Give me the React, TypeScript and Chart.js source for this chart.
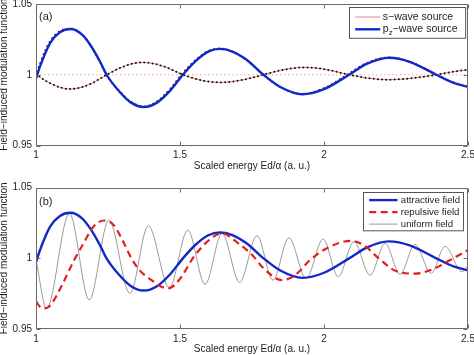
import React, { useEffect, useRef } from 'react';
import { Chart, registerables } from 'chart.js';

Chart.register(...registerables);

const FONT = '"Liberation Sans", Arial, Helvetica, sans-serif';
const TEXT = '#1e1e1e';
const AXIS = '#6a6a6a';
const BLUE = '#1428c8';
const RED = '#e41e1e';
const GRAY = '#9a9a9a';
const S_RED = '#e88080';

// ---- axes ----
const xTickValues = [1, 1.5, 2, 2.5];
const xTickLabels = ['1', '1.5', '2', '2.5'];
const yTickValues = [0.95, 1, 1.05];
const yTickLabels = ['0.95', '1', '1.05'];
const xTitle = 'Scaled energy Ed/\u03b1 (a. u.)';
const yTitle = 'Field\u2212induced modulation function';

// ---- panel (a) ----
const pzX = [1.000, 1.014, 1.049, 1.083, 1.120, 1.160, 1.188, 1.222, 1.245, 1.290, 1.330, 1.375, 1.420, 1.465, 1.510, 1.555, 1.600, 1.638, 1.680, 1.730, 1.790, 1.850, 1.925, 2.000, 2.087, 2.150, 2.225, 2.300, 2.390, 2.450, 2.500];
const pzY = [0.9972, 1.0059, 1.0224, 1.0300, 1.0323, 1.0283, 1.0212, 1.0094, 1.0000, 0.9880, 0.9803, 0.9772, 0.9803, 0.9886, 1.0000, 1.0098, 1.0165, 1.0183, 1.0166, 1.0108, 1.0000, 0.9912, 0.9862, 0.9898, 1.0000, 1.0078, 1.0120, 1.0090, 1.0000, 0.9943, 0.9915];
const pzDotY = [0.9990, 1.0080, 1.0238, 1.0308, 1.0325, 1.0285, 1.0212, 1.0092, 0.9998, 0.9884, 0.9808, 0.9775, 0.9812, 0.9898, 1.0012, 1.0106, 1.0170, 1.0185, 1.0166, 1.0106, 0.9998, 0.9910, 0.9864, 0.9905, 1.0008, 1.0085, 1.0122, 1.0090, 1.0000, 0.9944, 0.9916];
const sX = [1.000, 1.030, 1.060, 1.090, 1.118, 1.160, 1.200, 1.245, 1.290, 1.330, 1.370, 1.410, 1.460, 1.510, 1.555, 1.600, 1.635, 1.675, 1.725, 1.790, 1.850, 1.930, 2.000, 2.087, 2.150, 2.222, 2.300, 2.390, 2.450, 2.500];
const sY = [1.0005, 0.9961, 0.9929, 0.9907, 0.9899, 0.9913, 0.9946, 1.0000, 1.0046, 1.0076, 1.0087, 1.0078, 1.0046, 1.0000, 0.9971, 0.9951, 0.9946, 0.9950, 0.9967, 1.0000, 1.0032, 1.0052, 1.0040, 1.0000, 0.9977, 0.9965, 0.9974, 1.0000, 1.0022, 1.0035];
const refX = [1, 2.5];
const refY = [1, 1];

// ---- panel (b) ----
const attrX = pzX;
const attrY = pzY;
const repX = [1.000, 1.015, 1.030, 1.050, 1.095, 1.130, 1.165, 1.200, 1.236, 1.270, 1.300, 1.330, 1.360, 1.400, 1.430, 1.460, 1.500, 1.546, 1.593, 1.645, 1.700, 1.750, 1.790, 1.853, 1.900, 1.950, 2.010, 2.095, 2.140, 2.190, 2.250, 2.317, 2.380, 2.440, 2.500];
const repY = [0.9695, 0.9655, 0.9646, 0.9668, 0.9830, 0.9978, 1.0106, 1.0225, 1.0268, 1.0235, 1.0130, 1.0005, 0.9915, 0.9848, 0.9805, 0.9788, 0.9855, 1.0005, 1.0115, 1.0177, 1.0110, 1.0025, 0.9930, 0.9846, 0.9882, 0.9985, 1.0072, 1.0124, 1.0090, 1.0000, 0.9910, 0.9892, 0.9925, 0.9990, 1.0060];
const uniX = [1.000, 1.037, 1.116, 1.185, 1.253, 1.326, 1.390, 1.463, 1.527, 1.587, 1.646, 1.707, 1.767, 1.823, 1.878, 1.938, 1.997, 2.049, 2.104, 2.160, 2.212, 2.264, 2.316, 2.372, 2.420, 2.479, 2.500];
const uniY = [0.9990, 0.9646, 1.0318, 0.9705, 1.0271, 0.9752, 1.0231, 0.9792, 1.0200, 0.9816, 1.0177, 0.9830, 1.0160, 0.9846, 1.0146, 0.9858, 1.0137, 0.9870, 1.0118, 0.9880, 1.0106, 0.9887, 1.0099, 0.9894, 1.0085, 0.9906, 0.9950];

const pts = (xs: number[], ys: number[]) => xs.map((x, i) => ({ x, y: ys[i] }));

const frameLegend = {
  id: 'frameLegend',
  afterDatasetsDraw(chart: any, _args: any, opts: any) {
    const { ctx, chartArea: a } = chart;
    const xs = chart.scales.x;
    const ys = chart.scales.y;
    ctx.save();
    // frame + inward ticks
    const L = Math.round(a.left) + 0.5;
    const R = Math.round(a.right) - 0.5;
    const T = Math.round(a.top) + 0.5;
    const B = Math.round(a.bottom) - 0.5;
    const tl = 4;
    ctx.strokeStyle = AXIS;
    ctx.lineWidth = 1;
    ctx.setLineDash([]);
    ctx.beginPath();
    ctx.rect(L, T, R - L, B - T);
    for (const t of xs.ticks) {
      const px = Math.round(xs.getPixelForValue(t.value)) + 0.5;
      ctx.moveTo(px, B); ctx.lineTo(px, B - tl);
      ctx.moveTo(px, T); ctx.lineTo(px, T + tl);
    }
    for (const t of ys.ticks) {
      const py = Math.round(ys.getPixelForValue(t.value)) + 0.5;
      ctx.moveTo(L, py); ctx.lineTo(L + tl, py);
      ctx.moveTo(R, py); ctx.lineTo(R - tl, py);
    }
    ctx.stroke();

    // panel tag
    ctx.fillStyle = TEXT;
    ctx.font = `11px ${FONT}`;
    ctx.textBaseline = 'middle';
    ctx.textAlign = 'left';
    ctx.fillText(opts.tag, a.left + 3, a.top + opts.tagDy);

    // legend
    const lg = opts.legend;
    const fs = lg.size;
    const partW = (parts: any[]) => {
      let w = 0;
      for (const p of parts) {
        ctx.font = `${p.sub ? fs * 0.75 : fs}px ${FONT}`;
        w += ctx.measureText(p.t).width;
      }
      return w;
    };
    const textW = Math.max(...lg.items.map((it: any) => partW(it.parts)));
    const boxW = lg.padL + lg.lineLen + lg.gap + textW + lg.padR;
    const boxH = lg.padTop + (lg.items.length - 1) * lg.rowH + lg.padBottom;
    const bx = Math.round(a.right - lg.insetR - boxW) + 0.5;
    const by = Math.round(a.top + lg.insetT) + 0.5;
    ctx.fillStyle = '#ffffff';
    ctx.fillRect(bx, by, boxW, boxH);
    ctx.strokeStyle = '#555555';
    ctx.lineWidth = 1;
    ctx.strokeRect(bx, by, boxW, boxH);
    lg.items.forEach((it: any, i: number) => {
      const cy = by + lg.padTop + i * lg.rowH;
      const ds = chart.data.datasets[it.ds];
      ctx.save();
      ctx.strokeStyle = ds.borderColor;
      ctx.lineWidth = ds.borderWidth;
      ctx.setLineDash(ds.borderDash || []);
      ctx.beginPath();
      ctx.moveTo(bx + lg.padL, cy);
      ctx.lineTo(bx + lg.padL + lg.lineLen, cy);
      ctx.stroke();
      ctx.restore();
      let tx = bx + lg.padL + lg.lineLen + lg.gap;
      ctx.fillStyle = TEXT;
      ctx.textBaseline = 'middle';
      for (const p of it.parts) {
        ctx.font = `${p.sub ? fs * 0.75 : fs}px ${FONT}`;
        ctx.fillText(p.t, tx, cy + (p.sub ? 3.5 : 0));
        tx += ctx.measureText(p.t).width;
      }
    });
    ctx.restore();
  },
};

function buildConfig(p: any): any {
  return {
    type: 'line',
    data: { datasets: p.datasets },
    options: {
      animation: false,
      responsive: false,
      events: [],
      layout: { padding: { left: 0, right: 6, top: p.padTop, bottom: 0 } },
      elements: { point: { radius: 0 } },
      plugins: {
        legend: { display: false },
        tooltip: { enabled: false },
        frameLegend: { tag: p.tag, tagDy: p.tagDy, legend: p.legend },
      },
      scales: {
        x: {
          type: 'linear',
          min: 1,
          max: 2.5,
          grid: { display: false, drawTicks: false },
          border: { display: false },
          afterBuildTicks: (s: any) => { s.ticks = xTickValues.map((v) => ({ value: v })); },
          afterFit: (s: any) => { s.height = p.xHeight; s.paddingLeft = 0; s.paddingRight = 0; },
          ticks: {
            padding: 4,
            color: TEXT,
            autoSkip: false,
            maxRotation: 0,
            font: { family: FONT, size: 10 },
            callback: (_v: any, i: number) => xTickLabels[i],
          },
          title: {
            display: true,
            text: xTitle,
            color: TEXT,
            font: { family: FONT, size: 10, lineHeight: 1.2 },
            padding: { top: 0, bottom: p.titlePadBottom },
          },
        },
        y: {
          type: 'linear',
          min: 0.95,
          max: 1.05,
          grid: { display: false, drawTicks: false },
          border: { display: false },
          afterBuildTicks: (s: any) => { s.ticks = yTickValues.map((v) => ({ value: v })); },
          afterFit: (s: any) => { s.width = 36; s.paddingTop = 0; s.paddingBottom = 0; },
          ticks: {
            padding: 4,
            color: TEXT,
            autoSkip: false,
            font: { family: FONT, size: 10 },
            callback: (_v: any, i: number) => yTickLabels[i],
          },
          title: {
            display: true,
            text: yTitle,
            color: TEXT,
            font: { family: FONT, size: 10, lineHeight: 0.8 },
            padding: { top: 0, bottom: 0 },
          },
        },
      },
    },
    plugins: [frameLegend],
  };
}

const lineDs = (data: any, color: string, width: number, order: number, extra: any = {}) => ({
  data,
  borderColor: color,
  backgroundColor: color,
  borderWidth: width,
  pointRadius: 0,
  fill: false,
  cubicInterpolationMode: 'monotone',
  order,
  ...extra,
});

export default function App() {
  const topRef = useRef<HTMLCanvasElement>(null);
  const botRef = useRef<HTMLCanvasElement>(null);

  useEffect(() => {
    const top = new Chart(topRef.current as HTMLCanvasElement, buildConfig({
      padTop: 4,
      xHeight: 29.5,
      titlePadBottom: 3,
      tag: '(a)',
      tagDy: 13,
      datasets: [
        lineDs(pts(sX, sY), S_RED, 1, 4),
        lineDs(pts(pzX, pzY), BLUE, 2.4, 1),
        lineDs(pts(pzX, pzDotY), '#111111', 2, 2, { borderDash: [0, 4.6], borderCapStyle: 'round' }),
        lineDs(pts(sX, sY), '#111111', 2, 3, { borderDash: [0, 4.2], borderCapStyle: 'round' }),
        lineDs(pts(refX, refY), '#e9a9b4', 1, 5, { borderDash: [1.5, 2.5], cubicInterpolationMode: 'default' }),
      ],
      legend: {
        size: 10.5, insetR: 3, insetT: 2.5, padL: 5.7, lineLen: 25, gap: 2.6, padR: 8,
        padTop: 9.5, rowH: 12.3, padBottom: 9,
        items: [
          { ds: 0, parts: [{ t: 's\u2212wave source' }] },
          { ds: 1, parts: [{ t: 'p' }, { t: 'z', sub: true }, { t: '\u2212wave source' }] },
        ],
      },
    }));
    const bot = new Chart(botRef.current as HTMLCanvasElement, buildConfig({
      padTop: 12.7,
      xHeight: 26,
      titlePadBottom: 0,
      tag: '(b)',
      tagDy: 14,
      datasets: [
        lineDs(pts(attrX, attrY), BLUE, 2.4, 2),
        lineDs(pts(repX, repY), RED, 2.2, 1, { borderDash: [7, 4.5] }),
        lineDs(pts(uniX, uniY), GRAY, 1, 3),
      ],
      legend: {
        size: 9.6, insetR: 5, insetT: 4, padL: 5.7, lineLen: 28.3, gap: 3.3, padR: 3.5,
        padTop: 7.6, rowH: 12, padBottom: 6.7,
        items: [
          { ds: 0, parts: [{ t: 'attractive field' }] },
          { ds: 1, parts: [{ t: 'repulsive field' }] },
          { ds: 2, parts: [{ t: 'uniform field' }] },
        ],
      },
    }));
    return () => {
      top.destroy();
      bot.destroy();
    };
  }, []);

  return (
    <div style={{ position: 'absolute', left: 0, top: 0, width: 474, height: 355, background: '#ffffff', overflow: 'hidden' }}>
      <canvas ref={topRef} width={474} height={175} style={{ position: 'absolute', left: 0, top: 0, width: 474, height: 175 }} />
      <canvas ref={botRef} width={474} height={180} style={{ position: 'absolute', left: 0, top: 175, width: 474, height: 180 }} />
    </div>
  );
}
